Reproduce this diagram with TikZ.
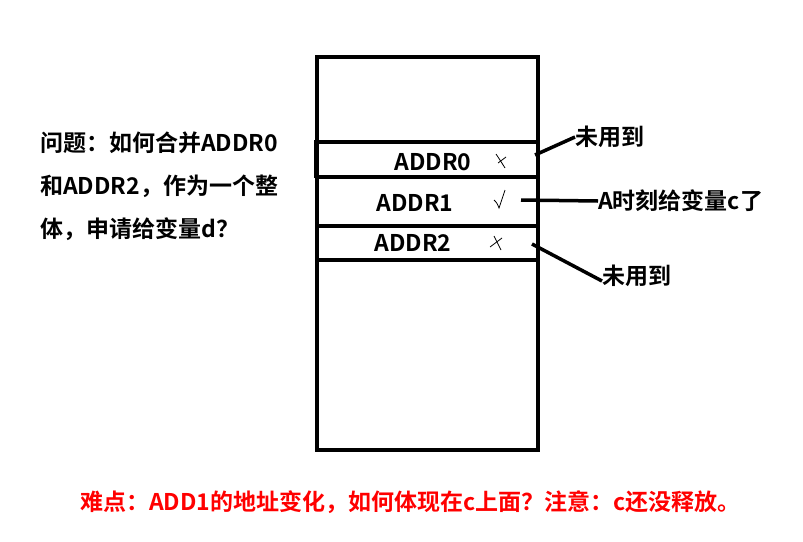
\documentclass[tikz,border=0pt]{standalone}
\usepackage{fontspec}
\setmainfont{Noto Sans CJK SC}[BoldFont={* Bold}]
\begin{document}
\begin{tikzpicture}[x=1pt,y=-1pt,
  box/.style={line width=4pt},
  conn/.style={line width=3.5pt},
  pen/.style={line width=0.8pt},
  lbl/.style={font=\fontsize{23}{26}\selectfont\bfseries,inner sep=0pt},
  blk/.style={font=\fontsize{23}{43}\selectfont\bfseries,inner sep=0pt,align=left,anchor=west}]
\useasboundingbox (0,0) rectangle (803,541);
\draw[box] (317,57) rectangle (538,450);
\draw[box] (317,142) -- (538,142);
\draw[box] (317,177) -- (538,177);
\draw[box] (317,226) -- (538,226);
\draw[box] (317,260) -- (538,260);
\draw[line width=3pt] (315,140) -- (315,178);
\node[lbl] (a0) at (433,162) {ADDR0};
\node[lbl] (a1) at (415,203) {ADDR1};
\node[lbl] (a2) at (413,243) {ADDR2};
\draw[pen] (496,154) .. controls (500,160) .. (505,168);
\draw[pen] (498,163) -- (506,157);
\draw[pen] (494,200) .. controls (497,203) .. (499,208) -- (505,190);
\draw[pen] (490,247) -- (502,238);
\draw[pen] (494,236) .. controls (497,242) .. (501,250);
\coordinate (c0) at (535,155);
\coordinate (c1) at (521,200);
\coordinate (c2) at (532,244);
\node[lbl,anchor=west] (t0) at (575,137) {未用到};
\node[lbl,anchor=west] (t1) at (598,201) {A时刻给变量c了};
\node[lbl,anchor=west] (t2) at (602,276) {未用到};
\draw[conn] (c0) -- (t0.west);
\draw[conn] (c1) -- (t1.west);
\draw[conn] (c2) -- ([yshift=-5pt]t2.west);
\node[blk] (q) at (40,186) {问题：如何合并ADDR0\\和ADDR2，作为一个整\\体，申请给变量d？};
\node[lbl,text=red,anchor=west] (d) at (80,502) {难点：ADD1的地址变化，如何体现在c上面？注意：c还没释放。};
\end{tikzpicture}
\end{document}
